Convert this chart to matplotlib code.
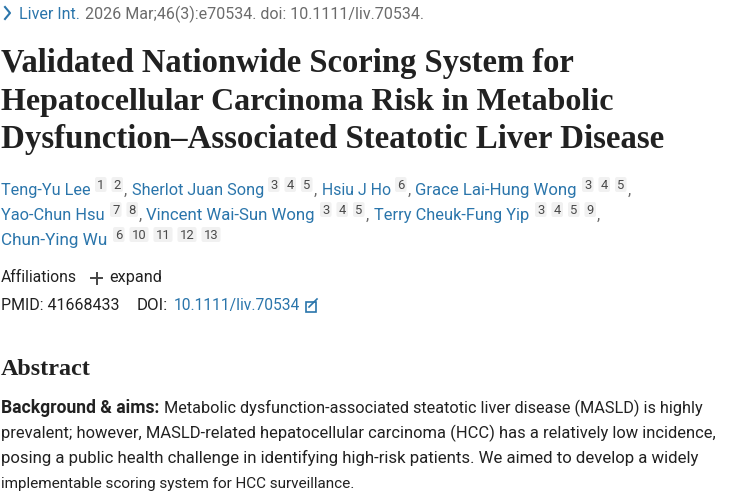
import matplotlib
matplotlib.use('Agg')
import matplotlib.pyplot as plt
from matplotlib.patches import FancyBboxPatch

LINK = '#2a75ab'
GREY = '#6b6b6b'
DARK = '#212121'
BADGE = '#f1f1f1'
SANS = 'Roboto'
SERIF = 'Liberation Serif'

citation = ['Liver Int.', '2026 Mar;46(3):e70534. doi: 10.1111/liv.70534.']
title_lines = ['Validated Nationwide Scoring System for',
               'Hepatocellular Carcinoma Risk in Metabolic',
               'Dysfunction\u2013Associated Steatotic Liver Disease']
authors = ['Teng-Yu Lee', 'Sherlot Juan Song', 'Hsiu J Ho', 'Grace Lai-Hung Wong',
           'Yao-Chun Hsu', 'Vincent Wai-Sun Wong', 'Terry Cheuk-Fung Yip', 'Chun-Ying Wu']
author_refs = [['1', '2'], ['3', '4', '5'], ['6'], ['3', '4', '5'],
               ['7', '8'], ['3', '4', '5'], ['3', '4', '5', '9'], ['6', '10', '11', '12', '13']]
abstract_lines = ['Metabolic dysfunction-associated steatotic liver disease (MASLD) is highly',
                  'prevalent; however, MASLD-related hepatocellular carcinoma (HCC) has a relatively low incidence,',
                  'posing a public health challenge in identifying high-risk patients. We aimed to develop a widely',
                  'implementable scoring system for HCC surveillance.']

fig = plt.figure(figsize=(7.5, 5), dpi=100, facecolor='white')
ax = fig.add_axes([0, 0, 1, 1])
ax.set_xlim(0, 750)
ax.set_ylim(500, 0)
ax.axis('off')
renderer = fig.canvas.get_renderer()


def put(x, y, s, px=16, color=DARK, family=SANS, weight='normal', right=None):
  # y is the baseline, right is the pixel where the text should end
  t = ax.text(x, y, s, fontsize=px * 0.72, color=color, family=family, weight=weight,
              ha='left', va='baseline')
  if right is not None:
    w = t.get_window_extent(renderer).width
    t.set_fontsize(t.get_fontsize() * (right - x) / w)
  return t


def badge(x, y, s):
  # small grey reference number box
  w = 6 + 7.5 * len(s)
  ax.add_patch(FancyBboxPatch((x + 1, y - 12), w - 2, 15, boxstyle='round,pad=0,rounding_size=2',
                              fc=BADGE, ec='none'))
  ax.text(x + w / 2, y, s, fontsize=9.4, color='#4a4a4a', family=SANS, ha='center', va='baseline')
  return x + w + 3


def author(x, right, y, name, refs, badge_x, comma=True):
  put(x, y, name, color=LINK, right=right)
  bx = badge_x
  for r in refs:
    bx = badge(bx, y - 6, r)
  if comma:
    put(bx - 3, y, ',', px=16, color=GREY)


# citation line
ax.plot([5, 10, 5], [7, 13, 19], color=LINK, lw=1.5)
put(19, 19, citation[0], color=LINK, right=80)
put(85, 19, citation[1], color=GREY, right=425)

# title
put(1, 72, title_lines[0], px=30, family=SERIF, weight='bold', color=DARK, right=575)
put(1, 110, title_lines[1], px=30, family=SERIF, weight='bold', color=DARK, right=614)
put(1, 148, title_lines[2], px=30, family=SERIF, weight='bold', color=DARK, right=664)

# authors
author(1, 91, 195, authors[0], author_refs[0], 94)
author(132, 264, 195, authors[1], author_refs[1], 267)
author(322, 391, 195, authors[2], author_refs[2], 394)
author(415, 578, 195, authors[3], author_refs[3], 581)
author(1, 105, 220, authors[4], author_refs[4], 109)
author(146, 315, 220, authors[5], author_refs[5], 319)
author(374, 530, 220, authors[6], author_refs[6], 534)
author(1, 108, 245, authors[7], author_refs[7], 112, comma=False)

# affiliations and ids
put(1, 282, 'Affiliations', right=78)
ax.plot([91, 102], [278, 278], color='#444444', lw=1.4)
ax.plot([96.5, 96.5], [272.5, 283.5], color='#444444', lw=1.4)
put(109, 282, 'expand', right=162)
put(1, 310, 'PMID: 41668433', right=120)
put(137, 310, 'DOI:', right=168)
put(174, 310, '10.1111/liv.70534', color=LINK, right=301)
ax.add_patch(plt.Rectangle((305.5, 301.5), 10, 10, fc='none', ec=LINK, lw=1.2))
ax.plot([309, 317], [307, 299], color=LINK, lw=1.2)

# abstract
put(1, 375, 'Abstract', px=23, family=SERIF, weight='bold', right=91)
put(1, 413, 'Background & aims:', weight='bold', right=159)
put(164, 413, abstract_lines[0], right=706)
put(1, 438, abstract_lines[1], right=717)
put(1, 463, abstract_lines[2], right=702)
put(1, 488, abstract_lines[3], right=357)

fig.savefig('out.png', dpi=100)
plt.close()
